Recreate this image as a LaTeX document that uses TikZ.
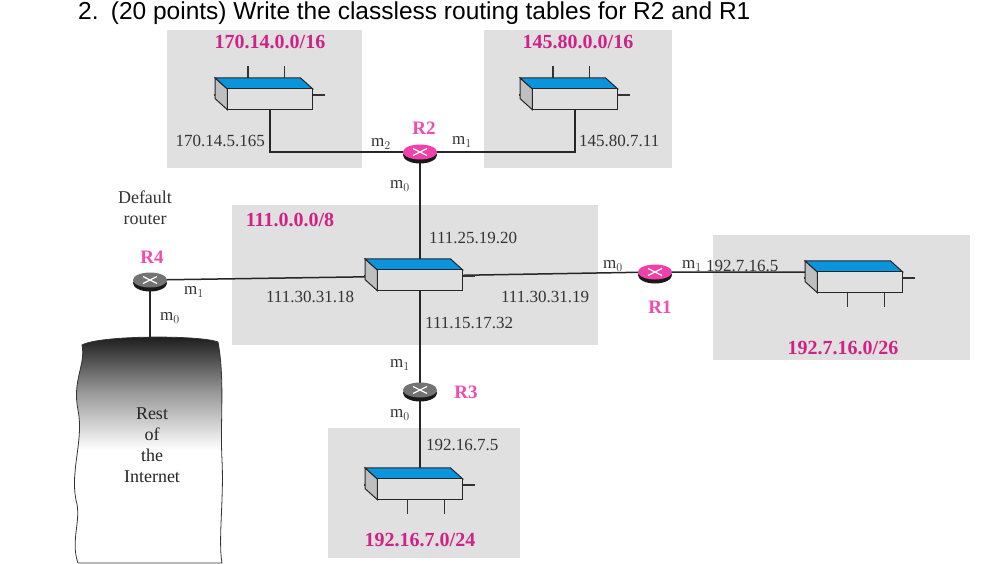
\documentclass[tikz,border=0pt]{standalone}
\usepackage{fontspec}
\setmainfont{Liberation Serif}
\newfontfamily\titlefont{Liberation Sans}
\begin{document}
\begin{tikzpicture}[x=1pt,y=-1pt,
  lbl/.style={font=\fontsize{17}{18}\selectfont,text=black!80,inner sep=1pt},
  net/.style={font=\fontsize{20}{21}\selectfont\bfseries,text=magenta!85!black,inner sep=1pt},
  rl/.style={font=\fontsize{19}{20}\selectfont\bfseries,text=magenta!70,inner sep=1pt},
  wire/.style={draw=black!85,line width=1.5pt},
  area/.style={fill=black!12,draw=none}]
\useasboundingbox (0,0) rectangle (1001,563);
\fill[white] (0,0) rectangle (1001,563);
% areas
\fill[area] (167,30) rectangle (362,168);
\fill[area] (484,30) rectangle (672,168);
\fill[area] (232,205) rectangle (598,345);
\fill[area] (713,235) rectangle (970,360);
\fill[area] (328,428) rectangle (520,558);
% cloud
\def\cloudpath{(82,345) .. controls (100,335) and (200,335) .. (218,342)
 .. controls (225,380) and (220,420) .. (222,460)
 .. controls (224,500) and (218,540) .. (222,563) -- (78,563)
 .. controls (70,540) and (82,520) .. (76,500)
 .. controls (70,470) and (84,440) .. (78,410)
 .. controls (72,380) and (86,365) .. (82,345) -- cycle}
\begin{scope}
 \clip \cloudpath;
 \fill[white] (60,330) rectangle (240,563);
 \shade[top color=black!90,bottom color=white,middle color=black!40] (60,335) rectangle (240,450);
\end{scope}
\draw[black!80,line width=0.8pt] \cloudpath;
\node[font=\fontsize{18}{21}\selectfont,align=center,text=black!85] (inet) at (152,445) {Rest\\of\\the\\Internet};
% coordinates
\coordinate (S1) at (270,95);
\coordinate (S2) at (575,95);
\coordinate (S0) at (420,276);
\coordinate (S3) at (420,485);
\coordinate (S4) at (860,278);
\coordinate (R2) at (420,152);
\coordinate (R4) at (150,280);
\coordinate (R1) at (655,272);
\coordinate (R3) at (420,390);
\coordinate (c1) at (270,152);
\coordinate (c2) at (575,152);
\coordinate (c4) at (860,272);
\coordinate (cl) at (150,340);
% wires
\draw[wire] (S1) -- (c1) -- (R2) -- (c2) -- (S2);
\draw[wire] (R2) -- (S0);
\draw[wire] (R4) -- (S0) -- (R1) -- (c4);
\draw[wire] (R4) -- (cl);
\draw[wire] (S0) -- (R3) -- (S3);
% switches
\foreach \n/\legs in {S1/-1,S2/-1,S0/0,S3/1,S4/1}{
 \begin{scope}[shift={(\n)},scale=1.22]
  \ifnum\legs=-1
   \draw[black!80,line width=1.3pt] (-18,-12) -- (-18,-24) (12,-12) -- (12,-24);
  \fi
  \ifnum\legs=1
   \draw[black!80,line width=1.3pt] (-10,12) -- (-10,24) (20,12) -- (20,24);
  \fi
  \draw[black!80,line width=1.3pt] (-46,0) -- (45,0);
  \filldraw[fill=black!25,draw=black!85,line width=1pt] (-35,-5) -- (-45,-14) -- (-45,3) -- (-35,12) -- cycle;
  \filldraw[fill=cyan!80!blue,draw=black!85,line width=1pt] (-35,-5) -- (-45,-14) -- (25,-14) -- (35,-5) -- cycle;
  \filldraw[fill=black!12,draw=black!85,line width=1pt] (-35,-5) rectangle (35,12);
 \end{scope}}
% routers
\foreach \n/\c in {R2/magenta!75,R1/magenta!75,R4/black!55,R3/black!55}{
 \begin{scope}[shift={(\n)}]
  \fill[black!90] (0,3) ellipse (17 and 8.5);
  \fill[\c] (0,0) ellipse (17 and 7.5);
  \draw[white,line width=1.3pt] (-7,-3.5) -- (7,3.5) (-7,3.5) -- (7,-3.5);
 \end{scope}}
% title
\node[anchor=west,font=\titlefont\fontsize{24.5}{26}\selectfont,inner sep=0] (title) at (78,13) {2.\enspace (20 points) Write the classless routing tables for R2 and R1};
% network labels
\node[net] (n1) at (270,42) {170.14.0.0/16};
\node[net] (n2) at (578,42) {145.80.0.0/16};
\node[net] (n0) at (290,220) {111.0.0.0/8};
\node[net] (n4) at (843,348) {192.7.16.0/26};
\node[net] (n3) at (420,540) {192.16.7.0/24};
% router labels
\node[rl] (r2l) at (424,128) {R2};
\node[rl] (r4l) at (152,257) {R4};
\node[rl] (r1l) at (660,307) {R1};
\node[rl] (r3l) at (466,392) {R3};
\node[lbl,align=center,font=\fontsize{18}{21}\selectfont] (def) at (145,208) {Default\\router};
% interface labels
\node[lbl,anchor=east] at (266,141) {170.14.5.165};
\node[lbl,anchor=west] at (578,141) {145.80.7.11};
\node[lbl] at (381,144) {m$_2$};
\node[lbl] at (462,142) {m$_1$};
\node[lbl] at (400,186) {m$_0$};
\node[lbl,anchor=west] at (428,238) {111.25.19.20};
\node[lbl] at (310,297) {111.30.31.18};
\node[lbl] at (545,297) {111.30.31.19};
\node[lbl,anchor=west] at (424,323) {111.15.17.32};
\node[lbl] at (194,292) {m$_1$};
\node[lbl] at (170,318) {m$_0$};
\node[lbl] at (613,266) {m$_0$};
\node[lbl] at (692,266) {m$_1$};
\node[lbl,anchor=west] at (705,266) {192.7.16.5};
\node[lbl] at (400,365) {m$_1$};
\node[lbl] at (400,415) {m$_0$};
\node[lbl,anchor=west] at (425,445) {192.16.7.5};
\end{tikzpicture}
\end{document}
